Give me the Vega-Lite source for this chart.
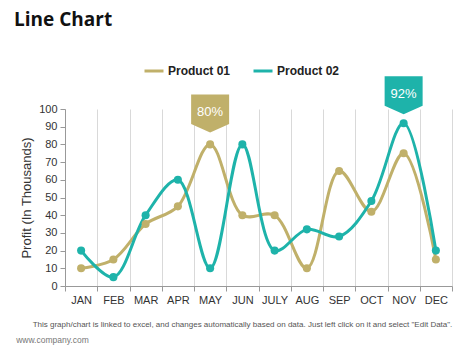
{
  "$schema": "https://vega.github.io/schema/vega-lite/v6.json",
  "width": 387,
  "height": 177,
  "autosize": {"type": "none"},
  "padding": {"left": 65, "top": 109, "right": 22, "bottom": 69},
  "background": "white",
  "config": {
    "view": {"stroke": null},
    "font": "Liberation Sans",
    "legend": {
      "orient": "none",
      "legendX": 78,
      "legendY": -49,
      "direction": "horizontal",
      "symbolType": "stroke",
      "symbolStrokeWidth": 3,
      "symbolSize": 361,
      "labelFontSize": 12,
      "labelFontWeight": "bold",
      "labelColor": "#222222",
      "labelOffset": 3,
      "columnPadding": 16,
      "title": null
    }
  },
  "title": {
    "text": "Line Chart",
    "anchor": "start",
    "frame": "group",
    "dx": -51,
    "offset": 30,
    "fontSize": 19,
    "fontWeight": "bold",
    "font": "Open Sans",
    "color": "#111111"
  },
  "datasets": {
    "sales": [
      {"month": "JAN", "product": "Product 01", "profit": 10},
      {"month": "FEB", "product": "Product 01", "profit": 15},
      {"month": "MAR", "product": "Product 01", "profit": 35},
      {"month": "APR", "product": "Product 01", "profit": 45},
      {"month": "MAY", "product": "Product 01", "profit": 80},
      {"month": "JUN", "product": "Product 01", "profit": 40},
      {"month": "JULY", "product": "Product 01", "profit": 40},
      {"month": "AUG", "product": "Product 01", "profit": 10},
      {"month": "SEP", "product": "Product 01", "profit": 65},
      {"month": "OCT", "product": "Product 01", "profit": 42},
      {"month": "NOV", "product": "Product 01", "profit": 75},
      {"month": "DEC", "product": "Product 01", "profit": 15},
      {"month": "JAN", "product": "Product 02", "profit": 20},
      {"month": "FEB", "product": "Product 02", "profit": 5},
      {"month": "MAR", "product": "Product 02", "profit": 40},
      {"month": "APR", "product": "Product 02", "profit": 60},
      {"month": "MAY", "product": "Product 02", "profit": 10},
      {"month": "JUN", "product": "Product 02", "profit": 80},
      {"month": "JULY", "product": "Product 02", "profit": 20},
      {"month": "AUG", "product": "Product 02", "profit": 32},
      {"month": "SEP", "product": "Product 02", "profit": 28},
      {"month": "OCT", "product": "Product 02", "profit": 48},
      {"month": "NOV", "product": "Product 02", "profit": 92},
      {"month": "DEC", "product": "Product 02", "profit": 20}
    ],
    "notes": [
      {"month": "MAY", "product": "Product 01", "profit": 97.5, "label": "80%"},
      {"month": "NOV", "product": "Product 02", "profit": 107.7, "label": "92%"}
    ],
    "site": [
      {"month": "JAN", "profit": -30.5, "label": "www.company.com"}
    ]
  },
  "encoding": {
    "x": {
      "field": "month",
      "type": "ordinal",
      "scale": {"type": "band", "paddingInner": 0, "paddingOuter": 0, "domain": ["JAN","FEB","MAR","APR","MAY","JUN","JULY","AUG","SEP","OCT","NOV","DEC"]},
      "axis": {
        "tickBand": "extent",
        "grid": true,
        "gridColor": "#d9d9d9",
        "domainColor": "#999999",
        "tickColor": "#999999",
        "labelAngle": 0,
        "labelFontSize": 11,
        "labelColor": "#333333",
        "labelPadding": 3,
        "title": "This graph/chart is linked to excel, and changes automatically based on data. Just left click on it and select \"Edit Data\".",
        "titleX": 177,
        "titleY": 38,
        "titleBaseline": "middle",
        "titleFontSize": 8,
        "titleFontWeight": "normal",
        "titleColor": "#555555"
      }
    },
    "y": {
      "field": "profit",
      "type": "quantitative",
      "scale": {"domain": [0, 100]},
      "axis": {
        "values": [0,10,20,30,40,50,60,70,80,90,100],
        "labelOverlap": false,
        "grid": false,
        "domainColor": "#999999",
        "tickColor": "#999999",
        "labelFontSize": 11,
        "labelColor": "#333333",
        "labelPadding": 3,
        "title": "Profit (In Thousands)",
        "titleFontSize": 13,
        "titleFontWeight": "normal",
        "titleColor": "#333333",
        "titleX": -39,
        "titleY": 88.5,
        "titleAlign": "center",
        "titleBaseline": "middle"
      }
    }
  },
  "layer": [
    {
      "data": {"name": "sales"},
      "mark": {"type": "line", "interpolate": "catmull-rom", "strokeWidth": 3, "point": {"filled": true, "size": 65, "opacity": 1}},
      "encoding": {
        "color": {
          "field": "product",
          "type": "nominal",
          "scale": {"domain": ["Product 01", "Product 02"], "range": ["#C0B06A", "#1EB3AA"]}
        }
      }
    },
    {
      "data": {"name": "notes"},
      "mark": {"type": "point", "filled": true, "opacity": 1, "size": 1444, "shape": "M-1,-1L1,-1L1,0.55L0,1L-1,0.55Z"},
      "encoding": {
        "color": {"field": "product", "type": "nominal"}
      }
    },
    {
      "data": {"name": "notes"},
      "mark": {"type": "text", "color": "white", "fontSize": 13, "dy": -1},
      "encoding": {
        "text": {"field": "label"}
      }
    },
    {
      "data": {"name": "site"},
      "mark": {"type": "text", "align": "left", "dx": -65, "fontSize": 8.5, "color": "#777777"},
      "encoding": {
        "text": {"field": "label"}
      }
    }
  ]
}
